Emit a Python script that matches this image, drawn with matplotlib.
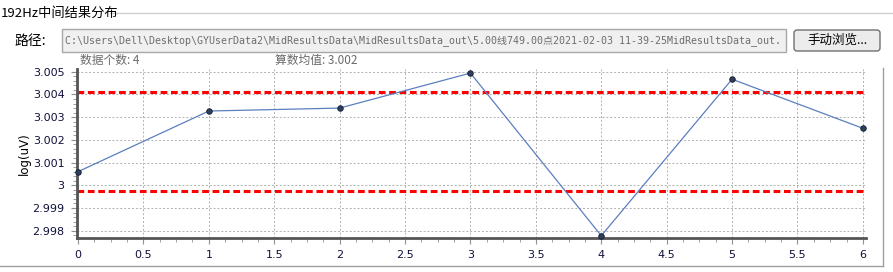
import numpy as np
import matplotlib
matplotlib.use('Agg')
import matplotlib.pyplot as plt
from matplotlib.patches import Rectangle, FancyBboxPatch
from matplotlib.ticker import MultipleLocator, FuncFormatter

plt.rcParams['font.family'] = ['DejaVu Sans', 'Noto Sans CJK SC']

# 数据
x = [0, 1, 2, 3, 4, 5, 6]
y = [3.0006, 3.00327, 3.0034, 3.00494, 2.99778, 3.00467, 3.00251]
upper = 3.00409
lower = 2.99974
title = '192Hz中间结果分布'
path = 'C:\\Users\\Dell\\Desktop\\GYUserData2\\MidResultsData\\MidResultsData_out\\5.00线749.00点2021-02-03 11-39-25MidResultsData_out.'
count_text = '数据个数: 4'
mean_text = '算数均值: 3.002'

W, H = 893, 272
fig = plt.figure(figsize=(W / 100, H / 100), dpi=100)
fig.patch.set_facecolor('white')

# 背景层，用像素坐标画控件
bg = fig.add_axes([0, 0, 1, 1])
bg.set_xlim(0, W)
bg.set_ylim(H, 0)
bg.axis('off')

cjk = ['Noto Sans CJK SC', 'DejaVu Sans']
bg.text(1, 13, title, fontsize=9.5, family=cjk, va='center', ha='left', color='#000000')
bg.plot([110, W], [13, 13], color='#d0d0d0', lw=1)

bg.text(14, 41, '路径:', fontsize=10, family=cjk, va='center', ha='left', color='#000000')
bg.add_patch(Rectangle((62, 29), 724, 23, facecolor='#f0f0f0', edgecolor='#a8a8a8', lw=1))
bg.text(65, 40.5, path, fontsize=7.2, family=['DejaVu Sans Mono', 'Noto Sans CJK SC'],
        va='center', ha='left', color='#6d6d6d')
bg.add_patch(FancyBboxPatch((794, 30), 86, 21, boxstyle='round,pad=0,rounding_size=3',
                            facecolor='#ececec', edgecolor='#707070', lw=1))
bg.text(837, 40.5, '手动浏览...', fontsize=9, family=cjk, va='center', ha='center', color='#000000')

bg.text(80, 60, count_text, fontsize=8.5, family=cjk, va='center', ha='left', color='#6a6a6a')
bg.text(275, 60, mean_text, fontsize=8.5, family=cjk, va='center', ha='left', color='#6a6a6a')

bg.plot([0, 883], [266, 266], color='#a0a0a0', lw=1)
bg.plot([883, 883], [68, 266], color='#a0a0a0', lw=1)

# 图表
ax = fig.add_axes([77 / W, 1 - 238 / H, (866 - 77) / W, (238 - 69) / H])
ax.patch.set_alpha(0)
ax.set_xlim(-0.008, 6.024)
ax.set_ylim(2.99768, 3.00512)

ax.plot(x, y, color='#5b7fbf', lw=0.9, zorder=3)
ax.plot(x, y, 'o', ms=4, mfc='#2d3e5e', mec='#141c2c', mew=0.6, zorder=4, clip_on=False)
ax.axhline(upper, color='#ff0000', lw=2.2, dashes=(2.2, 1.2), zorder=2)
ax.axhline(lower, color='#ff0000', lw=2.2, dashes=(2.2, 1.2), zorder=2)

ax.xaxis.set_major_locator(MultipleLocator(0.5))
ax.xaxis.set_minor_locator(MultipleLocator(0.125))
ax.yaxis.set_major_locator(MultipleLocator(0.001))
ax.yaxis.set_minor_locator(MultipleLocator(0.0002))
ax.xaxis.set_major_formatter(FuncFormatter(lambda v, p: '%g' % round(v, 3)))
ax.yaxis.set_major_formatter(FuncFormatter(lambda v, p: '%g' % round(v, 4)))

ax.grid(True, which='major', color='#b0b0b0', lw=0.7, dashes=(2, 2))
for s in ['top', 'right']:
    ax.spines[s].set_visible(False)
for s in ['left', 'bottom']:
    ax.spines[s].set_color('#555555')
    ax.spines[s].set_linewidth(2)

ax.tick_params(which='both', direction='out', color='#909090', labelsize=8, labelcolor='#10103a')
ax.tick_params(which='major', length=4, pad=5)
ax.tick_params(which='minor', length=3)
ax.set_ylabel('log(uV)', fontsize=8.5, labelpad=1)

fig.savefig('out.png', dpi=100)
